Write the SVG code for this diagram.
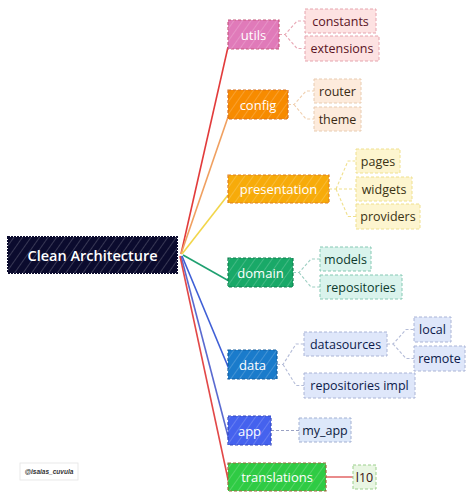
<svg xmlns="http://www.w3.org/2000/svg" width="474" height="500" viewBox="0 0 474 500">
<defs>
<pattern id="hatch" width="7" height="7" patternUnits="userSpaceOnUse" patternTransform="rotate(35)">
<line x1="0" y1="0" x2="0" y2="7" stroke="#ffffff" stroke-width="0.8" stroke-opacity="0.45"/>
</pattern>
<style>
.br{stroke-width:1.2;stroke-dasharray:3 2}
.bt{font-family:"Open Sans","Noto Sans",sans-serif;font-size:13px;fill:#ffffff;text-anchor:middle;dominant-baseline:central;font-weight:500}
.ct{font-family:"Open Sans","Noto Sans",sans-serif;font-size:12.5px;text-anchor:middle;dominant-baseline:central;font-weight:500}
.cb{stroke-width:1;stroke-dasharray:3 2}
.sc{fill:none;stroke-width:1.1;stroke-dasharray:3 2}
.mc{fill:none;stroke-width:1.6}
</style>
</defs>
<rect width="474" height="500" fill="#ffffff"/>

<g id="connectors">
<path class="mc" d="M181,254 L228,47" stroke="#e23b3b"/>
<path class="mc" d="M181,254 L228,117" stroke="#f0a060"/>
<path class="mc" d="M182,254 L228,195" stroke="#f2d64a"/>
<path class="mc" d="M183,255 L229,281" stroke="#1fa070" stroke-width="2.4"/>
<path class="mc" d="M182,256 L229,369" stroke="#3f5fd6"/>
<path class="mc" d="M181,256 L229,440" stroke="#5a6ad0"/>
<path class="mc" d="M180,256 L229,484" stroke="#e24848"/>

<path class="sc" stroke="#e8a6b4" d="M279,34.5 H285 L297,21 H305 M285,34.5 L297,48.5 H305"/>
<path class="sc" stroke="#f0cfae" d="M288,104.5 H294 L306,91 H314 M294,104.5 L306,119 H314"/>
<path class="sc" stroke="#f0e08c" d="M329,189 H356 M336,189 L348,161 H356 M336,189 L348,216.5 H356"/>
<path class="sc" stroke="#9ccfc2" d="M293,272.5 H299 L311,259 H320 M299,272.5 L311,287 H320"/>
<path class="sc" stroke="#b4bcd8" d="M277,364.5 H283 L296,344 H304 M283,364.5 L296,385.5 H304"/>
<path class="sc" stroke="#b4bcd8" d="M387,344 H393 L406,329.5 H414 M393,344 L406,358.5 H414"/>
<path class="sc" stroke="#9aa2c4" d="M271,430.5 H299"/>
<path fill="none" stroke="#e05a5a" stroke-width="1.4" d="M326,477 H353"/>
</g>

<g id="root">
<rect x="8" y="237" width="169" height="36" fill="#0b0b2e" stroke="#0b0b2e" stroke-width="2" stroke-dasharray="2 1"/>
<rect x="8" y="237" width="169" height="36" fill="url(#hatch)"/>
<text x="92.5" y="255.5" font-family="'Open Sans','Noto Sans',sans-serif" font-size="14.5" font-weight="600" fill="#ffffff" text-anchor="middle" dominant-baseline="central">Clean Architecture</text>
</g>

<g id="utils">
<rect class="br" x="228" y="20" width="51" height="29" fill="#e07ab9" stroke="#c8587f"/>
<rect x="228" y="20" width="51" height="29" fill="url(#hatch)"/>
<text class="bt" x="253.5" y="34.5">utils</text>
</g>
<g id="constants">
<rect class="cb" x="305" y="9" width="71" height="24" fill="#fde2e2" stroke="#e6a4ae"/>
<text class="ct" x="340.5" y="21" fill="#5a1424">constants</text>
</g>
<g id="extensions">
<rect class="cb" x="305" y="36" width="74" height="25" fill="#fde2e2" stroke="#e6a4ae"/>
<text class="ct" x="342" y="48.5" fill="#5a1424">extensions</text>
</g>

<g id="config">
<rect class="br" x="228" y="90" width="60" height="29" fill="#f78b00" stroke="#d87020"/>
<rect x="228" y="90" width="60" height="29" fill="url(#hatch)"/>
<text class="bt" x="258" y="104.5">config</text>
</g>
<g id="router">
<rect class="cb" x="314" y="79" width="47" height="24" fill="#fdebdc" stroke="#e8cbb0"/>
<text class="ct" x="337.5" y="91" fill="#3a2a14">router</text>
</g>
<g id="theme">
<rect class="cb" x="314" y="107" width="47" height="24" fill="#fdebdc" stroke="#e8cbb0"/>
<text class="ct" x="337.5" y="119" fill="#3a2a14">theme</text>
</g>

<g id="presentation">
<rect class="br" x="228" y="175" width="101" height="28" fill="#f7ab0a" stroke="#e08020"/>
<rect x="228" y="175" width="101" height="28" fill="url(#hatch)"/>
<text class="bt" x="278.5" y="189">presentation</text>
</g>
<g id="pages">
<rect class="cb" x="356" y="149" width="44" height="24" fill="#fdf5cf" stroke="#efe08e"/>
<text class="ct" x="378" y="161" fill="#3a3214">pages</text>
</g>
<g id="widgets">
<rect class="cb" x="356" y="177" width="56" height="24" fill="#fdf5cf" stroke="#efe08e"/>
<text class="ct" x="384" y="189" fill="#3a3214">widgets</text>
</g>
<g id="providers">
<rect class="cb" x="356" y="204" width="64" height="25" fill="#fdf5cf" stroke="#efe08e"/>
<text class="ct" x="388" y="216.5" fill="#3a3214">providers</text>
</g>

<g id="domain">
<rect class="br" x="228" y="258" width="65" height="29" fill="#19a968" stroke="#118050"/>
<rect x="228" y="258" width="65" height="29" fill="url(#hatch)"/>
<text class="bt" x="260.5" y="272.5">domain</text>
</g>
<g id="models">
<rect class="cb" x="320" y="247" width="51" height="24" fill="#d9f3ec" stroke="#86c9b4"/>
<text class="ct" x="345.5" y="259" fill="#0c3a2c">models</text>
</g>
<g id="repositories">
<rect class="cb" x="320" y="275" width="82" height="24" fill="#d9f3ec" stroke="#86c9b4"/>
<text class="ct" x="361" y="287" fill="#0c3a2c">repositories</text>
</g>

<g id="data">
<rect class="br" x="228" y="350" width="49" height="29" fill="#1a7bcb" stroke="#145ea0"/>
<rect x="228" y="350" width="49" height="29" fill="url(#hatch)"/>
<text class="bt" x="252.5" y="364.5">data</text>
</g>
<g id="datasources">
<rect class="cb" x="304" y="332" width="83" height="24" fill="#dfe7fa" stroke="#aab4d6"/>
<text class="ct" x="345.5" y="344" fill="#0c1a4a">datasources</text>
</g>
<g id="local">
<rect class="cb" x="414" y="317" width="37" height="25" fill="#dfe7fa" stroke="#aab4d6"/>
<text class="ct" x="432.5" y="329.5" fill="#0c1a4a">local</text>
</g>
<g id="remote">
<rect class="cb" x="414" y="346" width="51" height="25" fill="#dfe7fa" stroke="#aab4d6"/>
<text class="ct" x="439.5" y="358.5" fill="#0c1a4a">remote</text>
</g>
<g id="repositories-impl">
<rect class="cb" x="304" y="373" width="111" height="25" fill="#dfe7fa" stroke="#aab4d6"/>
<text class="ct" x="359.5" y="385.5" fill="#0c1a4a">repositories impl</text>
</g>

<g id="app">
<rect class="br" x="228" y="416" width="43" height="29" fill="#4562ee" stroke="#3548c0"/>
<rect x="228" y="416" width="43" height="29" fill="url(#hatch)"/>
<text class="bt" x="249.5" y="430.5">app</text>
</g>
<g id="my_app">
<rect class="cb" x="299" y="418" width="52" height="24" fill="#dde8fa" stroke="#a2b0d2"/>
<text class="ct" x="325" y="430" fill="#0c1a40">my_app</text>
</g>

<g id="translations">
<rect class="br" x="228" y="463" width="98" height="28" fill="#2fcb44" stroke="#a06a3a"/>
<rect x="228" y="463" width="98" height="28" fill="url(#hatch)"/>
<text class="bt" x="277" y="477">translations</text>
</g>
<g id="l10">
<rect class="cb" x="353" y="465" width="23" height="24" fill="#e9f6e3" stroke="#9ccf8c"/>
<text class="ct" x="364.5" y="477" fill="#3a1010">l10</text>
</g>

<g id="credit">
<rect x="20" y="463" width="58" height="17" fill="#ffffff" stroke="#e4e4e4" stroke-width="0.8"/>
<text x="49" y="471.5" font-family="'Liberation Sans',sans-serif" font-size="6.5" font-weight="bold" font-style="italic" fill="#333333" text-anchor="middle" dominant-baseline="central">@isaias_cuvula</text>
</g>
</svg>
